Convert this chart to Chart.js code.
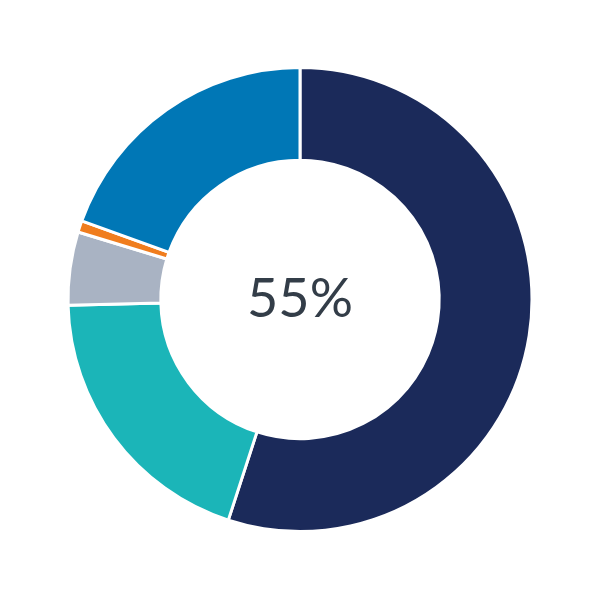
<!DOCTYPE html>
<html>
<head>
<meta charset="utf-8">
<script src="https://cdn.jsdelivr.net/npm/chart.js@4"></script>
<style>
  html, body { margin: 0; padding: 0; background: #fff; }
  #wrap { width: 600px; height: 599px; }
</style>
</head>
<body>
<div id="wrap"><canvas id="donutChart"></canvas></div>
<script>
const categories = ["Segment 1", "Segment 2", "Segment 3", "Segment 4", "Segment 5"];
const shares = [55, 19.6, 5.1, 0.8, 19.5];
const colors = ["#1b2a5a", "#1bb5b8", "#a9b3c3", "#f07d1e", "#0077b6"];
const centerLabel = "55%";

const centerText = {
  id: "centerText",
  afterDraw(chart) {
    const meta = chart.getDatasetMeta(0);
    if (!meta.data.length) return;
    const { x, y } = meta.data[0];
    const ctx = chart.ctx;
    ctx.save();
    ctx.font = "400 54px Lato, 'Open Sans', sans-serif";
    ctx.fillStyle = "#333d48";
    ctx.textAlign = "center";
    ctx.textBaseline = "middle";
    ctx.fillText(centerLabel, x, y);
    ctx.restore();
  },
};

new Chart(document.getElementById("donutChart"), {
  type: "doughnut",
  data: {
    labels: categories,
    datasets: [{
      data: shares,
      backgroundColor: colors,
      borderColor: "#ffffff",
      borderWidth: 3,
    }],
  },
  options: {
    responsive: true,
    maintainAspectRatio: false,
    animation: false,
    cutout: "60%",
    layout: { padding: 66 },
    plugins: { legend: { display: false }, tooltip: { enabled: false } },
  },
  plugins: [centerText],
});
</script>
</body>
</html>
